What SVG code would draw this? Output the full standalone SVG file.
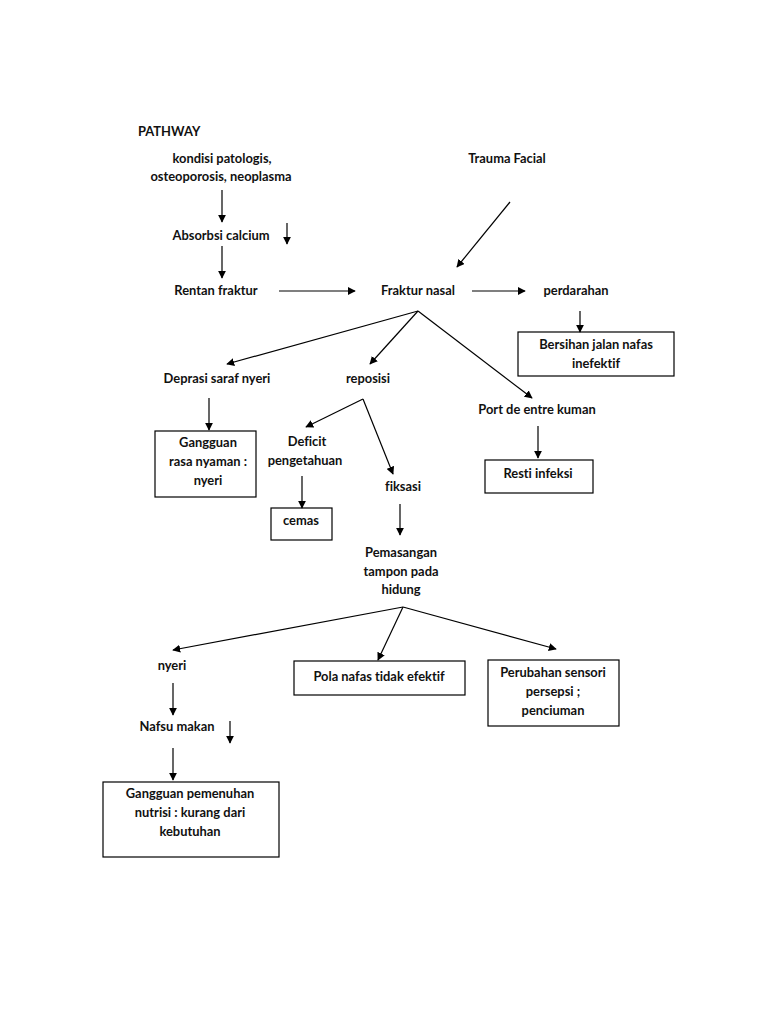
<svg xmlns="http://www.w3.org/2000/svg" width="768" height="1024" viewBox="0 0 768 1024">
<defs>
<marker id="ah" viewBox="0 0 10 10" refX="9" refY="5" markerWidth="8" markerHeight="8" markerUnits="userSpaceOnUse" orient="auto">
<path d="M0,0 L10,5 L0,10 z" fill="#000"/>
</marker>
<style>
text{font-family:Lato,"Liberation Sans",sans-serif;font-size:12.9px;font-weight:700;fill:#111;text-anchor:middle;font-variant-ligatures:none}
.l{text-anchor:start}
.box{fill:#fff;stroke:#000;stroke-width:1.2}
.c line{stroke:#000;stroke-width:1.2}
.c line.a{marker-end:url(#ah)}
</style>
</defs>
<rect width="768" height="1024" fill="#fff"/>
<g id="title"><text class="l" x="138" y="136">PATHWAY</text></g>
<g id="n-kondisi"><text x="222" y="163">kondisi patologis,</text><text x="221" y="181">osteoporosis, neoplasma</text></g>
<g id="n-trauma"><text x="507" y="163">Trauma Facial</text></g>
<g id="n-absorbsi"><text x="221" y="240">Absorbsi calcium</text></g>
<g id="n-rentan"><text x="216" y="295">Rentan fraktur</text></g>
<g id="n-fraktur"><text x="418" y="295">Fraktur nasal</text></g>
<g id="n-perdarahan"><text x="576" y="295">perdarahan</text></g>
<g id="n-bersihan"><rect class="box" x="518" y="332" width="156" height="44"/><text x="596" y="349">Bersihan jalan nafas</text><text x="596" y="368">inefektif</text></g>
<g id="n-deprasi"><text x="217" y="383">Deprasi saraf nyeri</text></g>
<g id="n-reposisi"><text x="368" y="383">reposisi</text></g>
<g id="n-port"><text x="537" y="414">Port de entre kuman</text></g>
<g id="n-gangguan-nyaman"><rect class="box" x="155" y="431" width="101" height="66"/><text x="208" y="447">Gangguan</text><text x="208" y="466">rasa nyaman :</text><text x="208" y="485">nyeri</text></g>
<g id="n-deficit"><text x="307" y="446">Deficit</text><text x="305" y="465">pengetahuan</text></g>
<g id="n-cemas"><rect class="box" x="271" y="508" width="61" height="32"/><text x="301" y="525">cemas</text></g>
<g id="n-resti"><rect class="box" x="485" y="460" width="108" height="33"/><text x="538" y="478">Resti infeksi</text></g>
<g id="n-fiksasi"><text x="403" y="491">fiksasi</text></g>
<g id="n-pemasangan"><text x="401" y="557">Pemasangan</text><text x="401" y="576">tampon pada</text><text x="401" y="594">hidung</text></g>
<g id="n-nyeri"><text x="172" y="670">nyeri</text></g>
<g id="n-pola"><rect class="box" x="294" y="661" width="171" height="34"/><text x="379" y="681">Pola nafas tidak efektif</text></g>
<g id="n-perubahan"><rect class="box" x="488" y="660" width="131" height="66"/><text x="553" y="677">Perubahan sensori</text><text x="553" y="696">persepsi ;</text><text x="553" y="715">penciuman</text></g>
<g id="n-nafsu"><text x="177" y="731">Nafsu makan</text></g>
<g id="n-gangguan-nutrisi"><rect class="box" x="103" y="782" width="176" height="75"/><text x="190" y="798">Gangguan pemenuhan</text><text x="190" y="817">nutrisi : kurang dari</text><text x="190" y="836">kebutuhan</text></g>
<g class="c" id="connectors">
<line class="a" x1="222" y1="190" x2="222" y2="222"/>
<line class="a" x1="287" y1="223" x2="287" y2="244"/>
<line class="a" x1="222" y1="246" x2="222" y2="278"/>
<line class="a" x1="279" y1="291" x2="355" y2="291"/>
<line class="a" x1="472" y1="291" x2="525" y2="291"/>
<line class="a" x1="510" y1="202" x2="457" y2="267"/>
<line class="a" x1="580" y1="311" x2="580" y2="332"/>
<line class="a" x1="418" y1="311" x2="227" y2="364"/>
<line class="a" x1="418" y1="311" x2="370" y2="364"/>
<line class="a" x1="418" y1="311" x2="532" y2="398"/>
<line class="a" x1="209" y1="398" x2="209" y2="430"/>
<line class="a" x1="363" y1="399" x2="306" y2="427"/>
<line class="a" x1="363" y1="399" x2="393" y2="474"/>
<line class="a" x1="302" y1="476" x2="302" y2="508"/>
<line class="a" x1="400" y1="504" x2="400" y2="535"/>
<line class="a" x1="538" y1="426" x2="538" y2="458"/>
<line class="a" x1="403" y1="607" x2="173" y2="650"/>
<line class="a" x1="403" y1="607" x2="378" y2="660"/>
<line class="a" x1="403" y1="607" x2="556" y2="649"/>
<line class="a" x1="173" y1="683" x2="173" y2="715"/>
<line class="a" x1="230" y1="721" x2="230" y2="743"/>
<line class="a" x1="173" y1="748" x2="173" y2="780"/>
</g>
</svg>
